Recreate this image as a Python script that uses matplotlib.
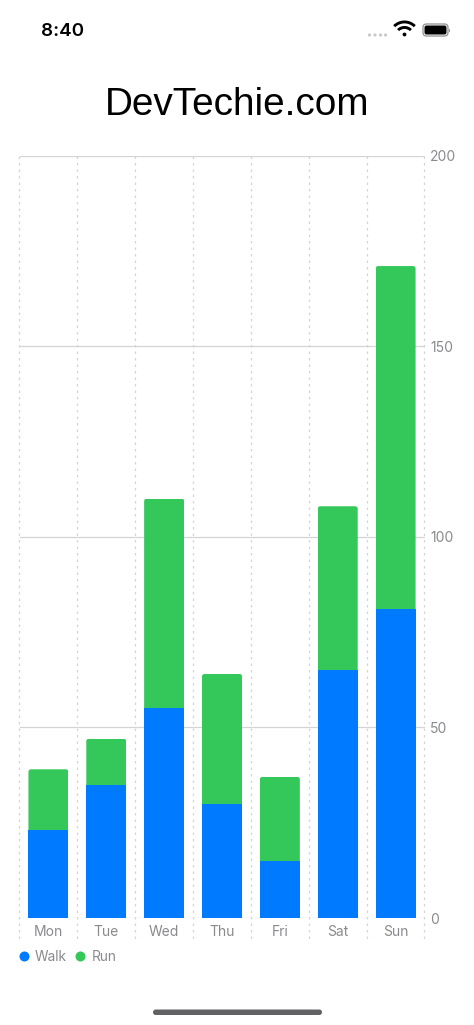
import matplotlib
matplotlib.use("Agg")
import matplotlib.pyplot as plt
from matplotlib.patches import FancyBboxPatch, Rectangle, Circle, Wedge
import numpy as np

days = ["Mon", "Tue", "Wed", "Thu", "Fri", "Sat", "Sun"]
walk = [23, 35, 55, 30, 15, 65, 81]
run = [16, 12, 55, 34, 22, 43, 90]
y_ticks = [0, 50, 100, 150, 200]
title = "DevTechie.com"
clock = "8:40"

W, H = 474, 1025
BLUE, GREEN = "#007AFF", "#34C759"
GRID, LABEL = "#D4D4D6", "#8A8A8E"
FONT = "Inter"

fig = plt.figure(figsize=(W / 100, H / 100), dpi=100, facecolor="white")

# Pixel-space overlay for the phone furniture
ov = fig.add_axes([0, 0, 1, 1])
ov.set_xlim(0, W)
ov.set_ylim(H, 0)
ov.axis("off")

ax_l, ax_r, ax_t, ax_b = 19.5, 424.5, 155.5, 918
ax = fig.add_axes([ax_l / W, 1 - ax_b / H, (ax_r - ax_l) / W, (ax_b - ax_t) / H])
ax.patch.set_alpha(0)
ax.set_xlim(0, len(days))
ax.set_ylim(0, 200)
for s in ax.spines.values():
    s.set_visible(False)
ax.set_yticks(y_ticks)
ax.yaxis.tick_right()
ax.set_xticks(np.arange(len(days)) + 0.5)
ax.set_xticklabels(days)
ax.tick_params(axis="both", length=0, labelcolor=LABEL, labelsize=10, labelfontfamily=FONT)
ax.tick_params(axis="x", pad=5)
ax.tick_params(axis="y", pad=4.2)
for v in y_ticks:
    ax.axhline(v, color=GRID, lw=0.9, zorder=1)

# Dashed day boundaries run below the baseline, into the label strip
for i in range(len(days) + 1):
    x = ax_l + i * (ax_r - ax_l) / len(days)
    ov.plot([x, x], [ax_t, 940], color=GRID, lw=0.9, dashes=(2, 3.2), zorder=1)

x = np.arange(len(days)) + 0.5
bar_w = 40 / ((ax_r - ax_l) / len(days))
ax.bar(x, walk, width=bar_w, color=BLUE, zorder=3, linewidth=0)
tops = ax.bar(x, run, bottom=walk, width=bar_w, color=GREEN, zorder=3, linewidth=0)

# Round the top corners of the upper segment only
px_x = (ax_r - ax_l) / len(days)
px_y = (ax_b - ax_t) / 200
r = 2.5 / px_x
for rect in tops:
    xx, yy, ww, hh = rect.get_x(), rect.get_y(), rect.get_width(), rect.get_height()
    clip = FancyBboxPatch((xx + r, yy - 5), ww - 2 * r, hh + 5 - r * px_x / px_y,
                          boxstyle=f"round,pad={r},rounding_size={r}",
                          mutation_aspect=px_x / px_y, transform=ax.transData,
                          facecolor="none", edgecolor="none")
    ax.add_patch(clip)
    rect.set_clip_path(clip)

ov.text(237, 115, title, ha="center", va="baseline", fontsize=27.9, family="Liberation Sans", color="black")
ov.text(63, 31, clock, ha="center", va="center", fontsize=13.5, weight="semibold", family=FONT, color="black")

# Legend
ov.add_patch(Circle((24.5, 956.5), 5, color=BLUE, lw=0))
ov.text(35, 957, "Walk", va="center", fontsize=9.9, family=FONT, color=LABEL)
ov.add_patch(Circle((80.5, 956.5), 5, color=GREEN, lw=0))
ov.text(92, 957, "Run", va="center", fontsize=9.9, family=FONT, color=LABEL)

# Status bar: signal dots
for sx in (369.5, 375, 380.5, 385.5):
    ov.add_patch(Circle((sx, 35), 1.6, color="#C9C9CB", lw=0))
# Wi-Fi
ov.add_patch(Circle((404.5, 34.5), 1.9, color="black", lw=0))
for outer, w in ((16, 2.9), (10.5, 2.9)):
    ov.add_patch(Wedge((404.5, 36.5), outer, 225, 315, width=w, color="black", lw=0))
# Battery
ov.add_patch(FancyBboxPatch((423, 24), 25, 12, boxstyle="round,pad=0,rounding_size=3.5",
                            fc="white", ec="#8E8E90", lw=0.9))
ov.add_patch(FancyBboxPatch((424.5, 25.5), 22, 9, boxstyle="round,pad=0,rounding_size=2",
                            fc="black", ec="none"))
ov.add_patch(Rectangle((449.2, 28.5), 1.3, 3.5, fc="#9A9A9C", ec="none"))

# Home indicator
ov.add_patch(FancyBboxPatch((153, 1009.5), 169, 5.5, boxstyle="round,pad=0,rounding_size=2.7",
                            fc="#626264", ec="none"))

fig.savefig("out.png", dpi=100, facecolor="white")
